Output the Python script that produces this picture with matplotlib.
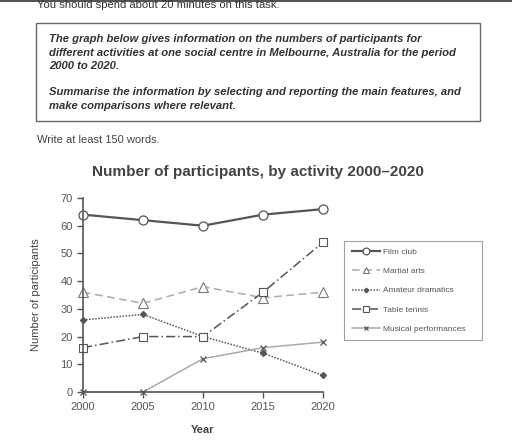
import matplotlib.pyplot as plt
from matplotlib.patches import Rectangle

plt.rcParams['font.family'] = ['Liberation Sans', 'DejaVu Sans']

years = [2000, 2005, 2010, 2015, 2020]
film_club = [64, 62, 60, 64, 66]
martial_arts = [36, 32, 38, 34, 36]
amateur_dramatics = [26, 28, 20, 14, 6]
table_tennis = [16, 20, 20, 36, 54]
musical = [0, 0, 12, 16, 18]

W, H = 512, 441
fig = plt.figure(figsize=(W / 100, H / 100), dpi=100)

def px(x, y):
    return x / W, 1 - y / H

# page header
fig.add_artist(Rectangle((0, 1 - 2 / H), 1, 2 / H, transform=fig.transFigure,
                         color='#555555', lw=0))
fig.text(*px(37, 5), 'You should spend about 20 minutes on this task.',
         fontsize=8.1, color='#333333', va='center')
fig.add_artist(Rectangle(px(36, 121), (480 - 36) / W, (121 - 23) / H,
                         transform=fig.transFigure, fill=False,
                         ec='#666666', lw=1))
task = [
    (39, 'The graph below gives information on the numbers of participants for'),
    (52.5, 'different activities at one social centre in Melbourne, Australia for the period'),
    (66, '2000 to 2020.'),
    (92, 'Summarise the information by selecting and reporting the main features, and'),
    (106, 'make comparisons where relevant.'),
]
for y, s in task:
    fig.text(*px(49, y), s, fontsize=8.1, fontweight='bold', style='italic',
             color='#333333', va='center')
fig.text(*px(37, 140), 'Write at least 150 words.', fontsize=8, color='#444444',
         va='center')
fig.text(*px(258, 172), 'Number of participants, by activity 2000\u20132020',
         fontsize=11, fontweight='bold', color='#444444', ha='center', va='center')

# chart
l, b = px(83, 392)
r, t = px(323, 198)
ax = fig.add_axes([l, b, r - l, t - b])

dark = '#555555'
ax.plot(years, film_club, color='#555555', lw=1.6, marker='o', ms=6.5,
        mfc='white', mec='#555555', mew=0.9, label='Film club', clip_on=False)
ax.plot(years, martial_arts, color='#aaaaaa', lw=1.1, ls=(0, (5, 3)), marker='^',
        ms=6.5, mfc='white', mec='#777777', mew=0.8, label='Martial arts', clip_on=False)
ax.plot(years, amateur_dramatics, color='#555555', lw=1.1, ls=(0, (1, 1)), marker='D',
        ms=3, mfc='#555555', mec='#555555', label='Amateur dramatics', clip_on=False)
ax.plot(years, table_tennis, color='#555555', lw=1.1, ls=(0, (6, 2, 1, 2)), marker='s',
        ms=6, mfc='white', mec='#555555', mew=0.8, label='Table tennis', clip_on=False)
ax.plot(years, musical, color='#aaaaaa', lw=1.1, marker='x', ms=4.5, mec='#555555',
        mew=0.9, label='Musical performances', clip_on=False)

ax.set_xlim(2000, 2020)
ax.set_ylim(0, 70)
ax.set_xticks(years)
ax.set_yticks(range(0, 71, 10))
for side in ['top', 'right']:
    ax.spines[side].set_visible(False)
for side in ['left', 'bottom']:
    ax.spines[side].set_color(dark)
    ax.spines[side].set_linewidth(1.2)
ax.tick_params(colors=dark, labelcolor='#555555', labelsize=8, length=4, width=1)
ax.set_xlabel('Year', fontsize=8, fontweight='bold', color='#444444', labelpad=9)
ax.set_ylabel('Number of participants', fontsize=8, color='#444444', labelpad=14)

lx0, ly0 = px(344, 339)
lx1, ly1 = px(482, 242)
leg = ax.legend(loc='center', bbox_to_anchor=(lx0, ly0, lx1 - lx0, ly1 - ly0),
                bbox_transform=fig.transFigure, mode='expand', fontsize=6,
                frameon=True, fancybox=False, edgecolor='#888888',
                handlelength=3.4, labelspacing=1.35, borderpad=0.9,
                borderaxespad=0, handletextpad=0.4, markerscale=0.75,
                labelcolor='#555555')
leg.get_frame().set_linewidth(0.8)

fig.savefig('out.png', dpi=100)
